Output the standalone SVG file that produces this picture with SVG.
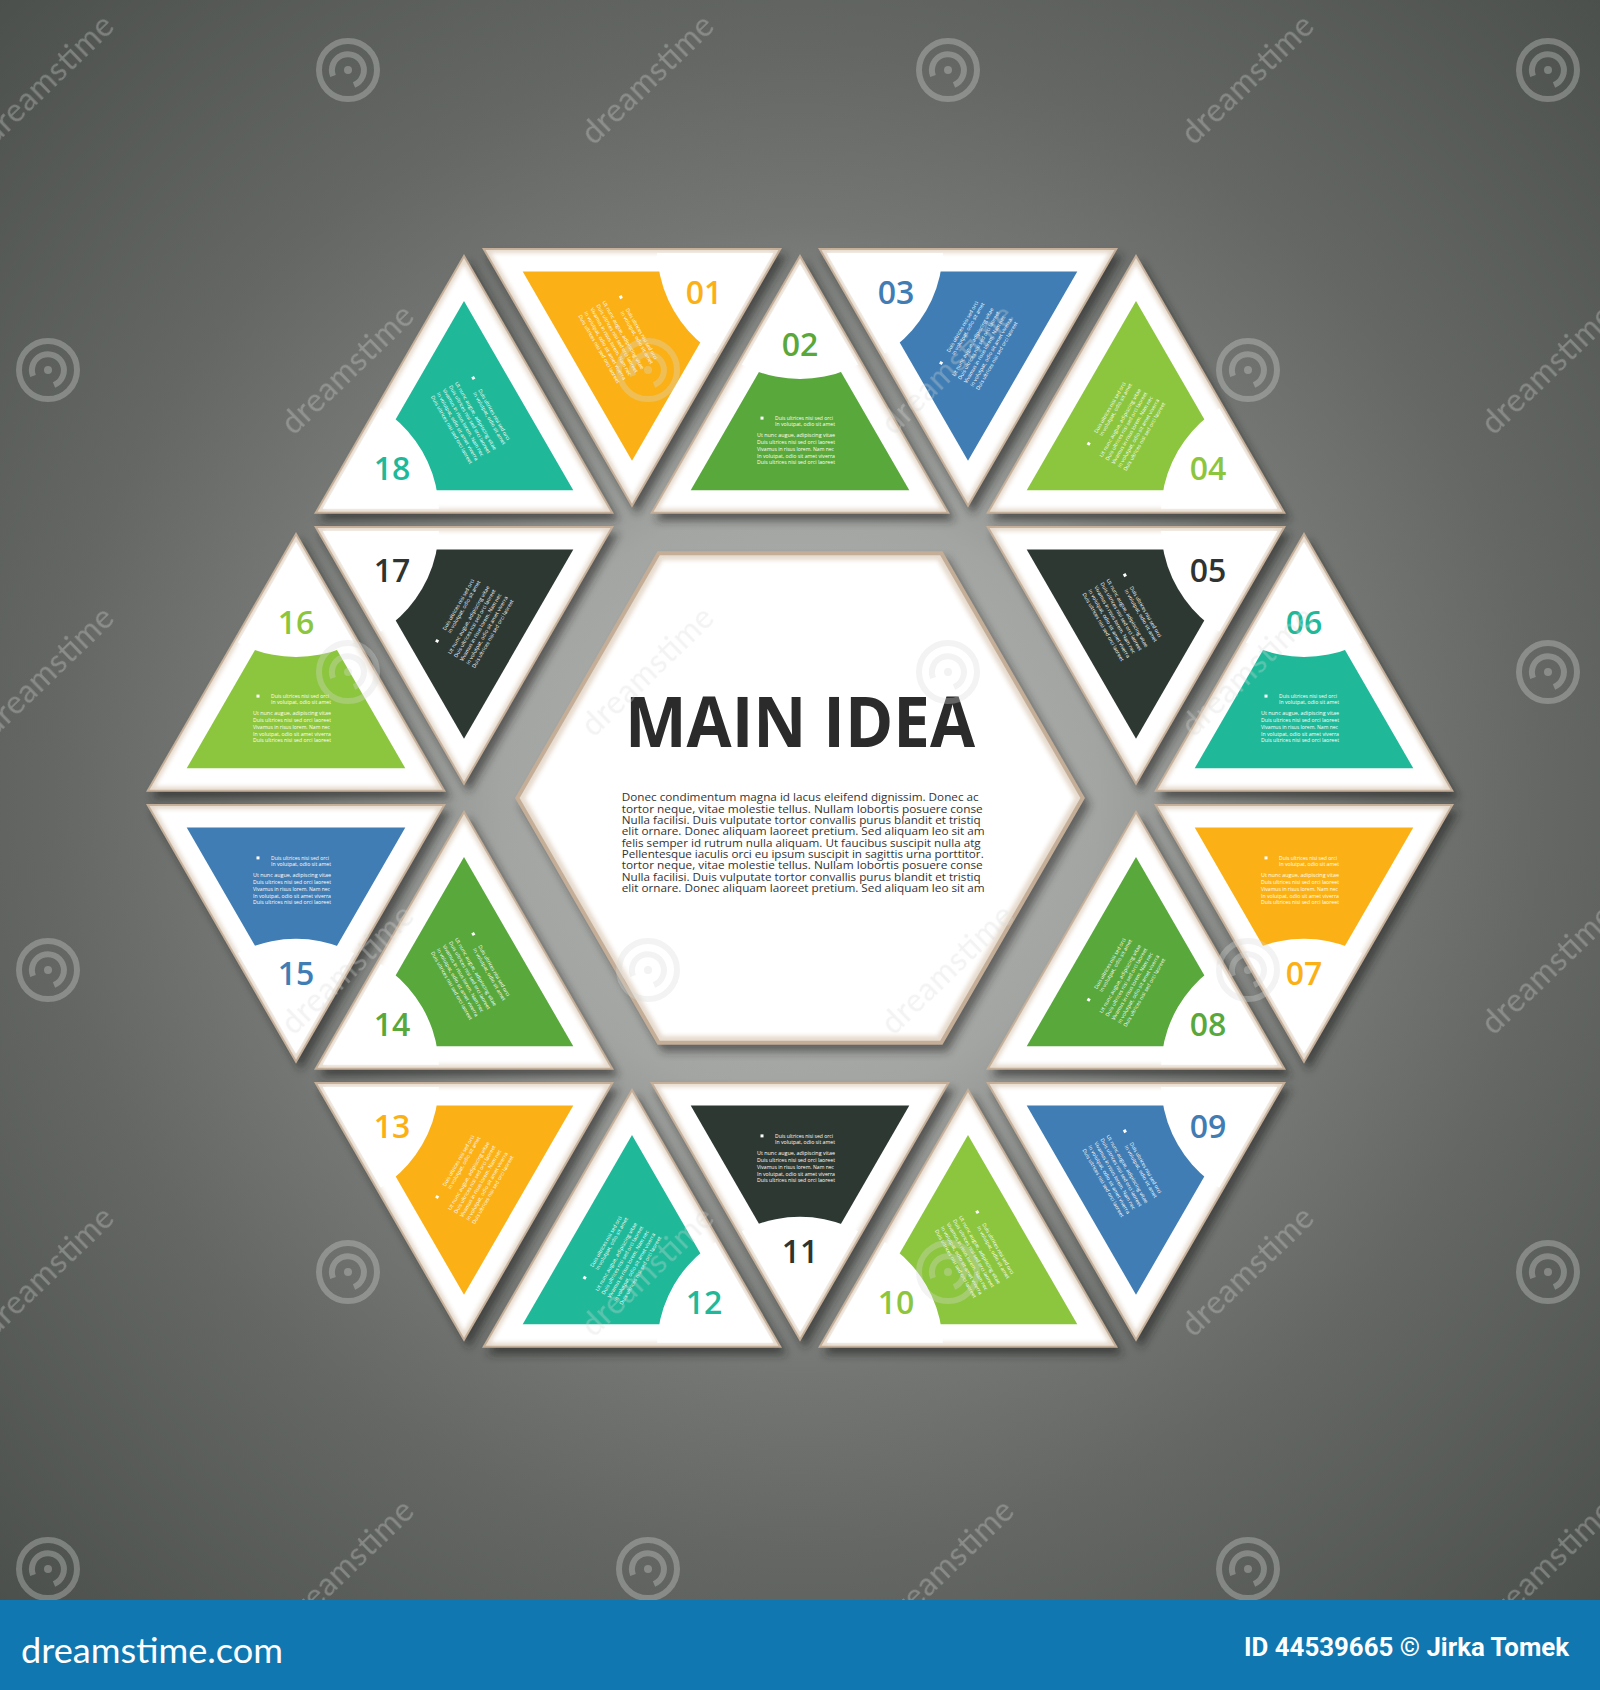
<svg xmlns="http://www.w3.org/2000/svg" width="1600" height="1690" viewBox="0 0 1600 1690">
<defs>
<style>
.num{font-family:"Open Sans","Noto Sans",sans-serif;font-weight:600;font-size:32px;text-anchor:middle}
.sm{font-family:"Open Sans","Noto Sans",sans-serif;font-size:5px;fill:#fff}
.para{font-family:"Open Sans","Noto Sans",sans-serif;font-size:10.3px;fill:#333}
.wm{font-family:Lato,"Open Sans",sans-serif;font-size:32px;fill:#d8dad8;text-anchor:middle}
</style>
<radialGradient id="bg" cx="800" cy="800" r="1150" gradientUnits="userSpaceOnUse">
<stop offset="0" stop-color="#b3b5b2"/>
<stop offset="0.26" stop-color="#a3a5a2"/>
<stop offset="0.36" stop-color="#8d908d"/>
<stop offset="0.5" stop-color="#737673"/>
<stop offset="0.65" stop-color="#646764"/>
<stop offset="1" stop-color="#4b4f4c"/>
</radialGradient>
<filter id="sh" x="-20%" y="-20%" width="140%" height="140%"><feGaussianBlur stdDeviation="4"/></filter>
<filter id="bl" x="-10%" y="-10%" width="120%" height="120%"><feGaussianBlur stdDeviation="2.2"/></filter>
<polygon id="pUp" points="0,-173.2 -150,86.6 150,86.6"/>
<polygon id="pUpM" points="0,-169.2 -146.5,84.6 146.5,84.6"/>
<polygon id="pUpW" points="0,-163.2 -141.3,81.6 141.3,81.6"/>
<polygon id="cUpP" points="0,-126.2 -109.3,63.1 109.3,63.1"/>
<polygon id="pDn" points="0,173.2 -150,-86.6 150,-86.6"/>
<polygon id="pDnM" points="0,169.2 -146.5,-84.6 146.5,-84.6"/>
<polygon id="pDnW" points="0,163.2 -141.3,-81.6 141.3,-81.6"/>
<polygon id="cDnP" points="0,126.2 -109.3,-63.1 109.3,-63.1"/>
<clipPath id="clipUp"><polygon points="0,-163.2 -141.3,81.6 141.3,81.6"/></clipPath>
<clipPath id="clipDn"><polygon points="0,163.2 -141.3,-81.6 141.3,-81.6"/></clipPath>
<g id="frUp">
<use href="#pUp" transform="translate(5,7)" fill="#1c1e1c" opacity="0.55" filter="url(#sh)"/>
<use href="#pUp" fill="#c4ae98"/>
<use href="#pUpM" fill="#e6dacd"/>
<use href="#pUpW" fill="#ffffff" filter="url(#bl)"/>
</g>
<g id="frDn">
<use href="#pDn" transform="translate(5,7)" fill="#1c1e1c" opacity="0.55" filter="url(#sh)"/>
<use href="#pDn" fill="#c4ae98"/>
<use href="#pDnM" fill="#e6dacd"/>
<use href="#pDnW" fill="#ffffff" filter="url(#bl)"/>
</g>
<g id="blk" class="sm">
<rect x="-39.5" y="-3.6" width="3" height="3" fill="#fff"/>
<text x="-25" y="0" textLength="58" lengthAdjust="spacingAndGlyphs">Duis ultrices nisi sed orci</text>
<text x="-25" y="6" textLength="60" lengthAdjust="spacingAndGlyphs">In volutpat, odio sit amet</text>
<text x="-43" y="16.5" textLength="78" lengthAdjust="spacingAndGlyphs">Ut nunc augue, adipiscing vitae</text>
<text x="-43" y="23.5" textLength="78" lengthAdjust="spacingAndGlyphs">Duis ultrices nisi sed orci laoreet</text>
<text x="-43" y="30.5" textLength="77" lengthAdjust="spacingAndGlyphs">Vivamus in risus lorem. Nam nec</text>
<text x="-43" y="37.5" textLength="78" lengthAdjust="spacingAndGlyphs">In volutpat, odio sit amet viverra</text>
<text x="-43" y="44.3" textLength="78" lengthAdjust="spacingAndGlyphs">Duis ultrices nisi sed orci laoreet</text>
</g>
<g id="cu">
<use href="#cUpP"/>
<circle cx="0" cy="-173.2" r="125" fill="#ffffff" clip-path="url(#clipUp)"/>
<use href="#blk" transform="translate(0,-7)"/>
</g>
<g id="cd">
<use href="#cDnP"/>
<circle cx="0" cy="173.2" r="125" fill="#ffffff" clip-path="url(#clipDn)"/>
<use href="#blk" transform="translate(0,-30.6)"/>
</g>
<g id="sp" fill="none" stroke="#d8dad8" stroke-width="6">
<circle r="29"/>
<path d="M -15 6 A 16 16 0 1 1 6 15"/>
<circle r="4" fill="#d8dad8" stroke="none"/>
</g>
</defs>

<rect id="background" x="0" y="0" width="1600" height="1690" fill="url(#bg)"/>

<g id="triangles">
<g id="t18" transform="translate(464,427.2)"><use href="#frUp"/><use href="#cd" transform="rotate(60)" fill="#1fb99a"/><text class="num" x="-72" y="53" fill="#1fb99a">18</text></g>
<g id="t01" transform="translate(632,334.6)"><use href="#frDn"/><use href="#cu" transform="rotate(60)" fill="#fbb116"/><text class="num" x="72" y="-30.2" fill="#fbb116">01</text></g>
<g id="t02" transform="translate(800,427.2)"><use href="#frUp"/><use href="#cu" fill="#58a83c"/><text class="num" x="0" y="-71.7" fill="#58a83c">02</text></g>
<g id="t03" transform="translate(968,334.6)"><use href="#frDn"/><use href="#cu" transform="rotate(-60)" fill="#3f7db4"/><text class="num" x="-72" y="-30.2" fill="#3f7db4">03</text></g>
<g id="t04" transform="translate(1136,427.2)"><use href="#frUp"/><use href="#cd" transform="rotate(-60)" fill="#8cc63e"/><text class="num" x="72" y="53" fill="#8cc63e">04</text></g>

<g id="t16" transform="translate(296,705.2)"><use href="#frUp"/><use href="#cu" fill="#8cc63e"/><text class="num" x="0" y="-71.7" fill="#8cc63e">16</text></g>
<g id="t17" transform="translate(464,612.6)"><use href="#frDn"/><use href="#cu" transform="rotate(-60)" fill="#2d3833"/><text class="num" x="-72" y="-30.2" fill="#2e3431">17</text></g>
<g id="t05" transform="translate(1136,612.6)"><use href="#frDn"/><use href="#cu" transform="rotate(60)" fill="#2d3833"/><text class="num" x="72" y="-30.2" fill="#2e3431">05</text></g>
<g id="t06" transform="translate(1304,705.2)"><use href="#frUp"/><use href="#cu" fill="#1fb99a"/><text class="num" x="0" y="-71.7" fill="#1fb99a">06</text></g>

<g id="t15" transform="translate(296,890.6)"><use href="#frDn"/><use href="#cd" fill="#3f7db4"/><text class="num" x="0" y="94.5" fill="#3f7db4">15</text></g>
<g id="t14" transform="translate(464,983.2)"><use href="#frUp"/><use href="#cd" transform="rotate(60)" fill="#58a83c"/><text class="num" x="-72" y="53" fill="#58a83c">14</text></g>
<g id="t08" transform="translate(1136,983.2)"><use href="#frUp"/><use href="#cd" transform="rotate(-60)" fill="#58a83c"/><text class="num" x="72" y="53" fill="#58a83c">08</text></g>
<g id="t07" transform="translate(1304,890.6)"><use href="#frDn"/><use href="#cd" fill="#fbb116"/><text class="num" x="0" y="94.5" fill="#fbb116">07</text></g>

<g id="t13" transform="translate(464,1168.6)"><use href="#frDn"/><use href="#cu" transform="rotate(-60)" fill="#fbb116"/><text class="num" x="-72" y="-30.2" fill="#fbb116">13</text></g>
<g id="t12" transform="translate(632,1261.2)"><use href="#frUp"/><use href="#cd" transform="rotate(-60)" fill="#1fb99a"/><text class="num" x="72" y="53" fill="#1fb99a">12</text></g>
<g id="t11" transform="translate(800,1168.6)"><use href="#frDn"/><use href="#cd" fill="#2d3833"/><text class="num" x="0" y="94.5" fill="#2e3431">11</text></g>
<g id="t10" transform="translate(968,1261.2)"><use href="#frUp"/><use href="#cd" transform="rotate(60)" fill="#8cc63e"/><text class="num" x="-72" y="53" fill="#8cc63e">10</text></g>
<g id="t09" transform="translate(1136,1168.6)"><use href="#frDn"/><use href="#cu" transform="rotate(60)" fill="#3f7db4"/><text class="num" x="72" y="-30.2" fill="#3f7db4">09</text></g>
</g>

<g id="main">
<polygon points="515,798 657.5,551.2 942.5,551.2 1085,798 942.5,1044.8 657.5,1044.8" transform="translate(5,7)" fill="#1c1e1c" opacity="0.5" filter="url(#sh)"/>
<polygon points="515,798 657.5,551.2 942.5,551.2 1085,798 942.5,1044.8 657.5,1044.8" fill="#c4ae98"/>
<polygon points="519.6,798 659.8,555.2 940.2,555.2 1080.4,798 940.2,1040.8 659.8,1040.8" fill="#e6dacd"/>
<polygon points="525,798 662.5,559.9 937.5,559.9 1075,798 937.5,1036.1 662.5,1036.1" fill="#ffffff" filter="url(#bl)"/>
<text x="800" y="747" text-anchor="middle" textLength="350" lengthAdjust="spacingAndGlyphs" style="font-family:'Open Sans','Noto Sans',sans-serif;font-weight:700;font-size:70px" fill="#2b2b2b">MAIN IDEA</text>
<text class="para" x="621.7" y="801.2" textLength="357" lengthAdjust="spacingAndGlyphs">Donec condimentum magna id lacus eleifend dignissim. Donec ac</text>
<text class="para" x="621.7" y="812.5" textLength="361" lengthAdjust="spacingAndGlyphs">tortor neque, vitae molestie tellus. Nullam lobortis posuere  conse</text>
<text class="para" x="621.7" y="823.8" textLength="359" lengthAdjust="spacingAndGlyphs">Nulla facilisi. Duis vulputate tortor convallis purus blandit et tristiq</text>
<text class="para" x="621.7" y="835.2" textLength="363" lengthAdjust="spacingAndGlyphs">elit ornare. Donec aliquam laoreet pretium. Sed aliquam leo sit am</text>
<text class="para" x="621.7" y="846.5" textLength="359" lengthAdjust="spacingAndGlyphs">felis semper id rutrum nulla aliquam. Ut faucibus suscipit nulla atg</text>
<text class="para" x="621.7" y="857.8" textLength="362" lengthAdjust="spacingAndGlyphs">Pellentesque iaculis orci eu ipsum suscipit in sagittis urna porttitor.</text>
<text class="para" x="621.7" y="869.2" textLength="361" lengthAdjust="spacingAndGlyphs">tortor neque, vitae molestie tellus. Nullam lobortis posuere  conse</text>
<text class="para" x="621.7" y="880.5" textLength="359" lengthAdjust="spacingAndGlyphs">Nulla facilisi. Duis vulputate tortor convallis purus blandit et tristiq</text>
<text class="para" x="621.7" y="891.8" textLength="363" lengthAdjust="spacingAndGlyphs">elit ornare. Donec aliquam laoreet pretium. Sed aliquam leo sit am</text>
</g>

<g id="watermark" opacity="0.33">
<use href="#sp" x="348" y="70"/><use href="#sp" x="948" y="70"/><use href="#sp" x="1548" y="70"/>
<use href="#sp" x="48" y="370"/><use href="#sp" x="648" y="370"/><use href="#sp" x="1248" y="370"/>
<use href="#sp" x="348" y="672"/><use href="#sp" x="948" y="672"/><use href="#sp" x="1548" y="672"/>
<use href="#sp" x="48" y="970"/><use href="#sp" x="648" y="970"/><use href="#sp" x="1248" y="970"/>
<use href="#sp" x="348" y="1272"/><use href="#sp" x="948" y="1272"/><use href="#sp" x="1548" y="1272"/>
<use href="#sp" x="48" y="1569"/><use href="#sp" x="648" y="1569"/><use href="#sp" x="1248" y="1569"/>
<text class="wm" transform="translate(48,80) rotate(-44)" y="10" textLength="170">dreamstime</text>
<text class="wm" transform="translate(648,80) rotate(-44)" y="10" textLength="170">dreamstime</text>
<text class="wm" transform="translate(1248,80) rotate(-44)" y="10" textLength="170">dreamstime</text>
<text class="wm" transform="translate(348,370) rotate(-44)" y="10" textLength="170">dreamstime</text>
<text class="wm" transform="translate(948,370) rotate(-44)" y="10" textLength="170">dreamstime</text>
<text class="wm" transform="translate(1548,370) rotate(-44)" y="10" textLength="170">dreamstime</text>
<text class="wm" transform="translate(48,672) rotate(-44)" y="10" textLength="170">dreamstime</text>
<text class="wm" transform="translate(648,672) rotate(-44)" y="10" textLength="170">dreamstime</text>
<text class="wm" transform="translate(1248,672) rotate(-44)" y="10" textLength="170">dreamstime</text>
<text class="wm" transform="translate(348,970) rotate(-44)" y="10" textLength="170">dreamstime</text>
<text class="wm" transform="translate(948,970) rotate(-44)" y="10" textLength="170">dreamstime</text>
<text class="wm" transform="translate(1548,970) rotate(-44)" y="10" textLength="170">dreamstime</text>
<text class="wm" transform="translate(48,1272) rotate(-44)" y="10" textLength="170">dreamstime</text>
<text class="wm" transform="translate(648,1272) rotate(-44)" y="10" textLength="170">dreamstime</text>
<text class="wm" transform="translate(1248,1272) rotate(-44)" y="10" textLength="170">dreamstime</text>
<text class="wm" transform="translate(348,1565) rotate(-44)" y="10" textLength="170">dreamstime</text>
<text class="wm" transform="translate(948,1565) rotate(-44)" y="10" textLength="170">dreamstime</text>
<text class="wm" transform="translate(1548,1565) rotate(-44)" y="10" textLength="170">dreamstime</text>
</g>

<g id="footer">
<rect x="0" y="1600" width="1600" height="90" fill="#1177b0"/>
<text x="21" y="1663" textLength="262" lengthAdjust="spacingAndGlyphs" style="font-family:Lato,'Open Sans',sans-serif;font-size:34px" fill="#ffffff">dreamstime.com</text>
<text x="1244" y="1656" textLength="325" lengthAdjust="spacingAndGlyphs" style="font-family:'Liberation Sans Narrow','Roboto','Liberation Sans',sans-serif;font-weight:700;font-size:25px" fill="#ffffff">ID 44539665 © Jirka Tomek</text>
</g>
</svg>
